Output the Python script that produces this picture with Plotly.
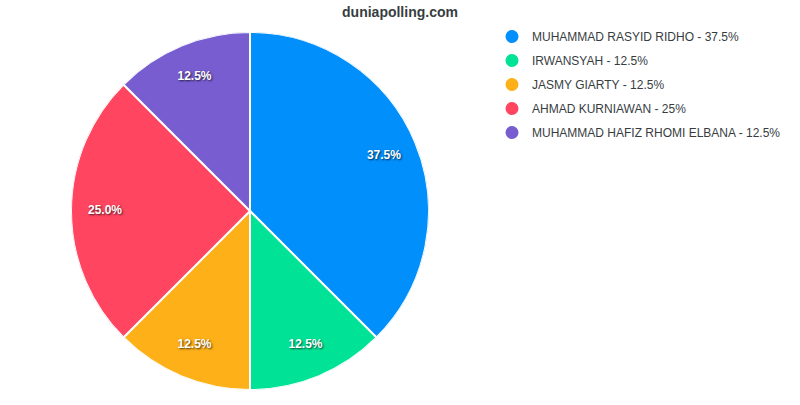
import plotly.graph_objects as go

# poll results
candidates = ["MUHAMMAD RASYID RIDHO", "IRWANSYAH", "JASMY GIARTY",
              "AHMAD KURNIAWAN", "MUHAMMAD HAFIZ RHOMI ELBANA"]
shares = [37.5, 12.5, 12.5, 25, 12.5]
legend_pct = ["37.5%", "12.5%", "12.5%", "25%", "12.5%"]
colors = ["#008FFB", "#00E396", "#FEB019", "#FF4560", "#775DD0"]

W, H = 800, 405
FONT = "Liberation Sans, Arial, sans-serif"

# wedge geometry from the shares (degrees, clockwise from 12 o'clock)
total = sum(shares)
widths = [s / total * 360 for s in shares]
mids = []
acc = 0
for w in widths:
    mids.append(acc + w / 2)
    acc += w
slice_text = [f"{s / total * 100:.1f}%" for s in shares]

fig = go.Figure()

fig.add_trace(go.Barpolar(
    r=[1] * len(shares),
    theta=mids,
    width=widths,
    marker=dict(color=colors, line=dict(color="#ffffff", width=2)),
    customdata=candidates,
    hovertemplate="%{customdata}<extra></extra>",
    showlegend=False,
))

fig.add_trace(go.Scatterpolar(
    r=[0.81] * len(shares),
    theta=mids,
    mode="text",
    text=slice_text,
    textfont=dict(family=FONT, size=12, color="#ffffff", weight="bold",
                  shadow="1px 1px 2px rgba(0,0,0,0.7)"),
    hoverinfo="skip",
    showlegend=False,
))

# legend entries with round markers
for i, (name, pct, c) in enumerate(zip(candidates, legend_pct, colors)):
    fig.add_trace(go.Scatter(
        x=[None], y=[None], mode="markers",
        marker=dict(size=13, color=c, symbol="circle"),
        name=f"{name} - {pct}",
        legendgroup=f"g{i}",
        hoverinfo="skip",
    ))

fig.update_layout(
    width=W, height=H,
    margin=dict(l=0, r=0, t=0, b=0, autoexpand=False),
    paper_bgcolor="white",
    plot_bgcolor="white",
    title=dict(text="<b>duniapolling.com</b>", x=0.5, xanchor="center",
               y=1 - 12 / H, yanchor="middle",
               font=dict(family=FONT, size=14, color="#373d3f")),
    polar=dict(
        domain=dict(x=[71 / W, 429 / W], y=[15 / H, 373 / H]),
        bgcolor="rgba(0,0,0,0)",
        bargap=0,
        hole=0,
        angularaxis=dict(visible=False, rotation=90, direction="clockwise"),
        radialaxis=dict(visible=False, range=[0, 1]),
    ),
    legend=dict(x=492 / W, y=1 - 22 / H, xanchor="left", yanchor="top",
                font=dict(family=FONT, size=12, color="#373d3f"),
                itemwidth=30, tracegroupgap=5,
                bgcolor="rgba(0,0,0,0)"),
    xaxis=dict(visible=False, domain=[0.64, 0.65]),
    yaxis=dict(visible=False, domain=[0.0, 0.01]),
)

# drop the browser's default body margin so the figure sits at the corner
fig.write_html("out.html", config={"displayModeBar": False},
               post_script="document.body.style.margin='0';")
